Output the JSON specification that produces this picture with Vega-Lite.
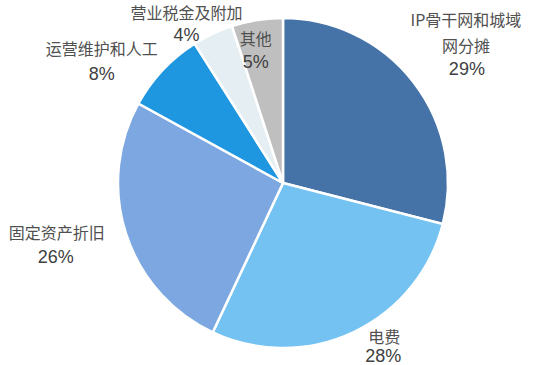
{
  "$schema": "https://vega.github.io/schema/vega-lite/v6.json",
  "width": 548,
  "height": 364,
  "autosize": {"type": "none"},
  "padding": {"left": 9, "top": 1, "right": 0, "bottom": 0},
  "background": "white",
  "config": {"view": {"stroke": null}},
  "data": {"values": [
    {"idx": 1, "name": "IP骨干网和城域网分摊", "label": "IP骨干网和城域\n网分摊", "value": 29, "pct": "29%"},
    {"idx": 2, "name": "电费", "label": "电费", "value": 28, "pct": "28%"},
    {"idx": 3, "name": "固定资产折旧", "label": "固定资产折旧", "value": 26, "pct": "26%"},
    {"idx": 4, "name": "运营维护和人工", "label": "运营维护和人工", "value": 8, "pct": "8%"},
    {"idx": 5, "name": "营业税金及附加", "label": "营业税金及附加", "value": 4, "pct": "4%"},
    {"idx": 6, "name": "其他", "label": "其他", "value": 5, "pct": "5%"}
  ]},
  "encoding": {
    "theta": {"field": "value", "type": "quantitative", "stack": true},
    "order": {"field": "idx", "type": "quantitative"}
  },
  "layer": [
    {
      "mark": {"type": "arc", "outerRadius": 165, "stroke": "white", "strokeWidth": 2.5},
      "encoding": {
        "color": {"field": "name", "type": "nominal", "legend": null,
          "scale": {"domain": ["IP骨干网和城域网分摊", "电费", "固定资产折旧", "运营维护和人工", "营业税金及附加", "其他"],
                    "range": ["#4572A7", "#74C2F2", "#7DA7E0", "#1F96E0", "#E5EEF2", "#BFBFBF"]}}
      }
    },
    {"mark": {"type": "text", "radius": 215, "dx": 14, "dy": 19, "font": "Liberation Sans", "fontSize": 18, "color": "#404040", "align": "center", "baseline": "middle"},
     "encoding": {"detail": {"field": "name"}, "text": {"condition": {"test": "datum.idx === 1", "field": "pct"}, "value": ""}}},
    {"mark": {"type": "text", "radius": 215, "dx": 13, "dy": -30, "font": "Noto Sans CJK SC", "fontSize": 16, "color": "#505050", "align": "center", "baseline": "middle", "lineBreak": "\n", "lineHeight": 26},
     "encoding": {"detail": {"field": "name"}, "text": {"condition": {"test": "datum.idx === 1", "field": "label"}, "value": ""}}},
    {"mark": {"type": "text", "radius": 200, "dx": 15, "dy": -7, "font": "Liberation Sans", "fontSize": 18, "color": "#404040", "align": "center", "baseline": "middle"},
     "encoding": {"detail": {"field": "name"}, "text": {"condition": {"test": "datum.idx === 2", "field": "pct"}, "value": ""}}},
    {"mark": {"type": "text", "radius": 200, "dx": 16, "dy": -26, "font": "Noto Sans CJK SC", "fontSize": 16, "color": "#505050", "align": "center", "baseline": "middle"},
     "encoding": {"detail": {"field": "name"}, "text": {"condition": {"test": "datum.idx === 2", "field": "label"}, "value": ""}}},
    {"mark": {"type": "text", "radius": 239, "dx": 0, "dy": 1, "font": "Liberation Sans", "fontSize": 18, "color": "#404040", "align": "center", "baseline": "middle"},
     "encoding": {"detail": {"field": "name"}, "text": {"condition": {"test": "datum.idx === 3", "field": "pct"}, "value": ""}}},
    {"mark": {"type": "text", "radius": 239, "dx": 1, "dy": -23, "font": "Noto Sans CJK SC", "fontSize": 16, "color": "#505050", "align": "center", "baseline": "middle"},
     "encoding": {"detail": {"field": "name"}, "text": {"condition": {"test": "datum.idx === 3", "field": "label"}, "value": ""}}},
    {"mark": {"type": "text", "radius": 206, "dx": -31, "dy": 33, "font": "Liberation Sans", "fontSize": 18, "color": "#404040", "align": "center", "baseline": "middle"},
     "encoding": {"detail": {"field": "name"}, "text": {"condition": {"test": "datum.idx === 4", "field": "pct"}, "value": ""}}},
    {"mark": {"type": "text", "radius": 206, "dx": -31, "dy": 8, "font": "Noto Sans CJK SC", "fontSize": 16, "color": "#505050", "align": "center", "baseline": "middle"},
     "encoding": {"detail": {"field": "name"}, "text": {"condition": {"test": "datum.idx === 4", "field": "label"}, "value": ""}}},
    {"mark": {"type": "text", "radius": 175, "dx": -22, "dy": 11, "font": "Liberation Sans", "fontSize": 18, "color": "#404040", "align": "center", "baseline": "middle"},
     "encoding": {"detail": {"field": "name"}, "text": {"condition": {"test": "datum.idx === 5", "field": "pct"}, "value": ""}}},
    {"mark": {"type": "text", "radius": 175, "dx": -22, "dy": -11, "font": "Noto Sans CJK SC", "fontSize": 16, "color": "#505050", "align": "center", "baseline": "middle"},
     "encoding": {"detail": {"field": "name"}, "text": {"condition": {"test": "datum.idx === 5", "field": "label"}, "value": ""}}},
    {"mark": {"type": "text", "radius": 123, "dx": -8, "dy": 1, "font": "Liberation Sans", "fontSize": 18, "color": "#404040", "align": "center", "baseline": "middle"},
     "encoding": {"detail": {"field": "name"}, "text": {"condition": {"test": "datum.idx === 6", "field": "pct"}, "value": ""}}},
    {"mark": {"type": "text", "radius": 123, "dx": -8, "dy": -22, "font": "Noto Sans CJK SC", "fontSize": 16, "color": "#505050", "align": "center", "baseline": "middle"},
     "encoding": {"detail": {"field": "name"}, "text": {"condition": {"test": "datum.idx === 6", "field": "label"}, "value": ""}}}
  ]
}
